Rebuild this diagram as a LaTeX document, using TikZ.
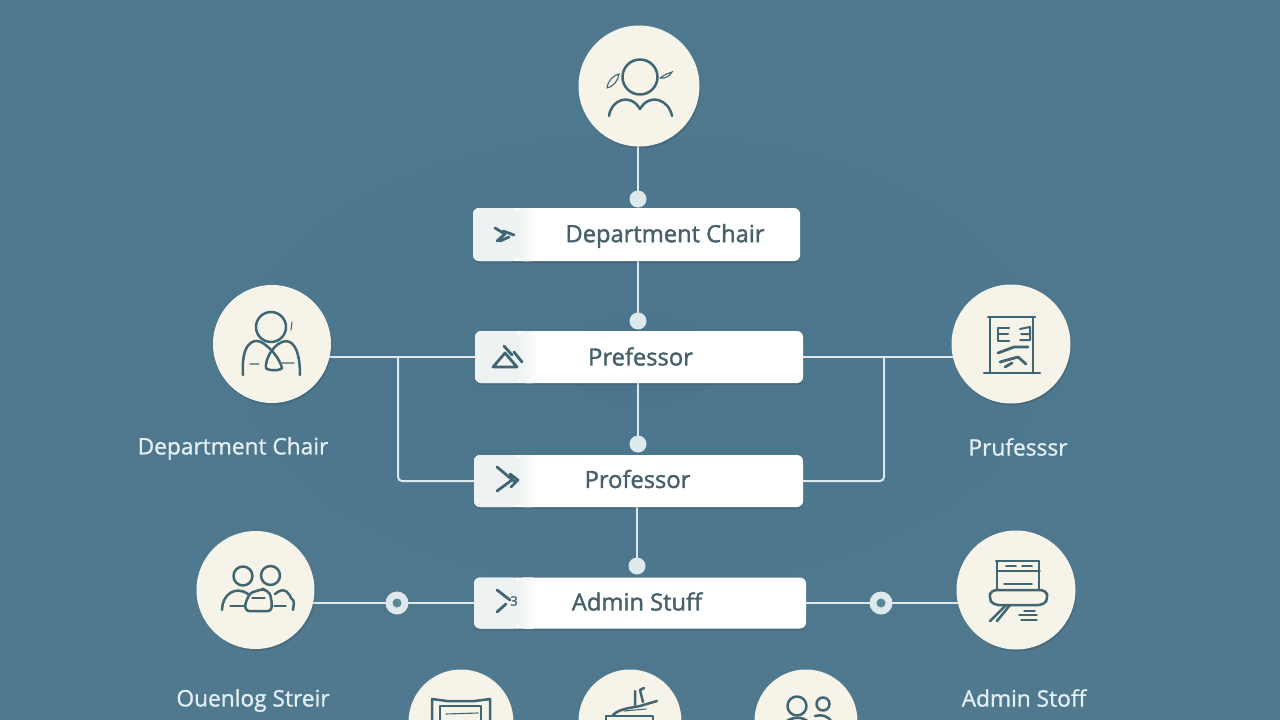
\documentclass[tikz,border=0pt]{standalone}
\usepackage{fontspec}
\setmainfont{Open Sans}
\newfontfamily\boxfont[FakeBold=1.6]{Open Sans}
\newfontfamily\sidefont[FakeBold=1.1]{Open Sans}
\usetikzlibrary{backgrounds,shadows,calc}
\definecolor{bgi}{HTML}{4A758D}
\definecolor{bgo}{HTML}{50798F}
\definecolor{cream}{HTML}{F6F3E8}
\definecolor{wire}{HTML}{DDE9EC}
\definecolor{ink}{HTML}{3F6672}
\definecolor{core}{HTML}{5E8699}
\definecolor{boxtext}{HTML}{47606B}
\definecolor{sidetext}{HTML}{E4F0F3}
\definecolor{strip}{HTML}{EFF2F2}
\tikzset{
  disc/.style={circle,fill=cream,inner sep=0pt,minimum size=#1,drop shadow={shadow xshift=1pt,shadow yshift=-2pt,opacity=.10,fill=black}},
  rolebox/.style={rectangle,rounded corners=6pt,fill=white,inner sep=0pt,
     path picture={\fill[strip] (path picture bounding box.north west) rectangle ($(path picture bounding box.south west)+(44pt,0)$);
       \fill[left color=strip,right color=white] ($(path picture bounding box.north west)+(44pt,0)$) rectangle ($(path picture bounding box.south west)+(64pt,0)$);},
     drop shadow={shadow xshift=0pt,shadow yshift=-2pt,opacity=.10,fill=black}},
  boxlabel/.style={text=boxtext,font=\boxfont\fontsize{23.7}{28}\selectfont,inner sep=0pt},
  sidelabel/.style={text=sidetext,font=\sidefont\fontsize{22.7}{27}\selectfont,inner sep=0pt},
  wireline/.style={draw=wire,line width=2pt},
  pin/.style={circle,fill=wire,inner sep=0pt,minimum size=17pt},
  ringpin/.style={circle,fill=wire,inner sep=0pt,minimum size=23pt},
  icon/.style={draw=ink,line width=2.5pt,line cap=round,line join=round,fill=none},
  thin icon/.style={draw=ink,line width=1.1pt,line cap=round,fill=none}
}
\begin{document}
\begin{tikzpicture}[x=1pt,y=-1pt]
\useasboundingbox (0,0) rectangle (1280,720);
\clip (0,0) rectangle (1280,720);
% discs
\node[disc=121pt] (top) at (639,86) {};
\node[disc=118pt] (cl) at (272,344) {};
\node[disc=119pt] (cr) at (1011,344) {};
\node[disc=118pt] (bl) at (255.5,590) {};
\node[disc=119pt] (br) at (1016,590) {};
\node[disc=105pt] (b1) at (461,722) {};
\node[disc=103pt] (b2) at (630,721) {};
\node[disc=103pt] (b3) at (806,721) {};
% boxes
\node[rolebox,minimum width=327pt,minimum height=53pt] (chair) at (636.5,234.5) {};
\node[rolebox,minimum width=328pt,minimum height=52pt] (p1) at (639,357) {};
\node[rolebox,minimum width=329pt,minimum height=52pt] (p2) at (638.5,481) {};
\node[rolebox,minimum width=332pt,minimum height=51pt] (adm) at (640,603) {};
\node[boxlabel] (t1) at (665,236) {Department Chair};
\node[boxlabel] (t2) at (640.5,356.5) {Prefessor};
\node[boxlabel] (t3) at (637.5,479) {Professor};
\node[boxlabel] (t4) at (637,601.5) {Admin Stuff};
% side labels
\node[sidelabel] (s1) at (233,448.5) {Department Chair};
\node[sidelabel] (s2) at (1018,447) {Prufesssr};
\node[sidelabel] (s3) at (253,700.5) {Ouenlog Streir};
\node[sidelabel] (s4) at (1024,698) {Admin Stoff};
% pins
\node[pin] (d1) at (638,199) {};
\node[pin] (d2) at (638,321) {};
\node[pin] (d3) at (638,444) {};
\node[pin] (d4) at (637,566) {};
\node[ringpin] (r1) at (397,603) {};
\node[ringpin] (r2) at (881,603) {};
\coordinate (jl) at (398,357);
\coordinate (jr) at (884,357);
\begin{scope}[on background layer]
\shade[inner color=bgi,outer color=bgo] (0,0) rectangle (1280,720);
\draw[wireline] (d1.center |- top.center) -- (d1.center);
\draw[wireline] (d1.center |- chair.south) -- (d2.center);
\draw[wireline] (d2.center |- p1.south) -- (d3.center);
\draw[wireline] (d4.center |- p2.south) -- (d4.center);
\draw[wireline] (cl.center |- p1.west) -- (p1.west);
\draw[wireline] (p1.east) -- (cr.center |- p1.east);
\draw[wireline,rounded corners=4pt] (jl) |- (p2.west);
\draw[wireline,rounded corners=4pt] (jr) |- (p2.east);
\draw[wireline] (bl.center |- adm.west) -- (adm.west);
\draw[wireline] (adm.east) -- (br.center |- adm.east);
\end{scope}
\fill[core] (r1) circle (4.5pt) (r2) circle (4.5pt);
% top icon
\draw[icon] (640,77) circle (17.5);
\draw[icon] (609,116) .. controls (611,100) and (630,92) .. (640,109) .. controls (650,92) and (669,100) .. (672,116);
\draw[thin icon] (607,88) .. controls (608,80) and (614,75) .. (619,74) .. controls (618,81) and (613,87) .. (607,88);
\draw[thin icon] (660,78) .. controls (665,74) and (670,73) .. (672,72) .. controls (670,76) and (665,79) .. (660,78);
% left icon
\draw[icon] (271,327) circle (15);
\draw[icon] (243,375) .. controls (241,345) and (252,338) .. (261,342) .. controls (272,348) and (280,360) .. (282,368) .. controls (280,371) and (268,371) .. (266,368) .. controls (265,360) and (272,346) .. (282,342) .. controls (292,338) and (300,348) .. (300,375);
\draw[thin icon] (250,364) -- (259,364) (282,363) -- (294,363) (292,322) -- (291,330);
% right icon
\begin{scope}[icon]
\draw (988,317) -- (1035,317) (990,317) -- (990,373) (1033,317) -- (1033,373) (984,373) -- (1040,373);
\draw[line width=2pt] (1009,328) -- (998,328) -- (998,341) -- (1009,341) (998,334) -- (1008,334);
\draw[line width=2pt] (1020,329) -- (1030,327) -- (1030,340) -- (1020,340) (1021,334) -- (1030,334);
\draw[line width=2.8pt] (998,353) -- (1014,347) -- (1028,347) (1000,362) -- (1018,357) -- (1026,364) (1005,367) -- (1012,363);
\end{scope}
% bottom-left icon
\draw[icon] (243,576) circle (9.5);
\draw[icon] (270.5,575.5) circle (9.5);
\draw[icon] (222,610) .. controls (222,595) and (235,585) .. (248,594);
\draw[icon] (275,594) .. controls (285,585) and (290,595) .. (291,598) .. controls (296,601) and (293,606) .. (293,610);
\draw[icon,rounded corners=3pt] (245,604) -- (250,593) -- (263,589) -- (265,590) -- (270,593) -- (272,604) -- (271,611) -- (246,611) -- cycle;
\draw[thin icon] (252,598) -- (265,598) (230,606) -- (244,606) (274,606) -- (286,606);
% bottom-right icon
\begin{scope}[icon]
\draw (996,561) -- (1039,561) (997,561) -- (997,590) (1039,561) -- (1039,590);
\draw[line width=1.7pt] (997,571) -- (1040,571) (1004,584) -- (1032,584) (1006,566) -- (1016,566) (1022,566) -- (1032,566);
\draw[rounded corners=5pt] (991,590) -- (1046,590) -- (1048,598) -- (1044,605) -- (993,605) -- (989,598) -- cycle;
\draw (990,621) -- (1006,605) (997,621) -- (1010,605);
\draw[line width=1.4pt] (1019,615) -- (1037,615) (1021,620) -- (1037,620) (1024,611) -- (1035,611);
\end{scope}
% bottom row icons
\draw[icon] (432,722) -- (432,699) -- (447,701) -- (475,701) -- (490,699) -- (490,722);
\draw[icon] (440,722) -- (440,706) -- (481,706) -- (481,722);
\draw[thin icon] (446,714) -- (478,713);
\draw[icon] (606,722) -- (606,716) -- (653,716) -- (653,722);
\draw[icon] (613,715) .. controls (620,708) and (632,708) .. (640,706) -- (657,701);
\draw[icon] (635,705) -- (635,691) (643,702) -- (640,690) -- (644,688);
\draw[thin icon] (624,711) -- (646,709);
\draw[icon] (797,706) circle (9.5);
\draw[icon] (823,704) circle (6.5);
\draw[icon] (786,722) .. controls (790,717) and (804,716) .. (808,722);
\draw[icon] (815,716) .. controls (822,714) and (828,716) .. (832,722);
% chevrons in boxes
\begin{scope}[icon,line width=2.8pt]
\draw (495,228) -- (505,234) -- (497,241) (503,231) -- (514,235) (500,241) -- (509,237);
\draw (493,367) -- (505,353) -- (517,367) -- cycle (504,346) -- (512,355) (514,352) -- (522,362);
\draw (497,467) -- (515,482) (497,491) -- (512,480) (510,474) -- (518,480) -- (511,487);
\draw (497,590) -- (510,600) (497,612) -- (506,604);
\end{scope}
\node[font=\boxfont\fontsize{13}{14}\selectfont,text=ink,inner sep=0pt] (k) at (514,601) {3};
\end{tikzpicture}
\end{document}
